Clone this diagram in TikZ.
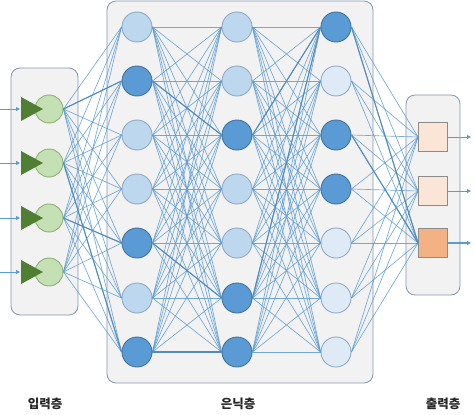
\documentclass[tikz,border=0pt]{standalone}
\usepackage{fontspec}
\newfontfamily\kr{Noto Sans CJK KR}
\usetikzlibrary{arrows.meta,calc}
\definecolor{lineblue}{HTML}{5B9BD5}
\definecolor{darkblue}{HTML}{5B9BD5}
\definecolor{darkblueb}{HTML}{41719C}
\definecolor{midblue}{HTML}{BDD7EE}
\definecolor{lightblue}{HTML}{DEEBF7}
\definecolor{lightb}{HTML}{8FA9C6}
\definecolor{boxfill}{HTML}{F2F2F2}
\definecolor{boxline}{HTML}{8497B0}
\definecolor{ingreen}{HTML}{C5E0B4}
\definecolor{ingreenb}{HTML}{8CAF74}
\definecolor{trigreen}{HTML}{507E32}
\definecolor{peach}{HTML}{FBE5D6}
\definecolor{orange}{HTML}{F4B183}
\definecolor{sqline}{HTML}{8C8C8C}
\tikzset{
  layerbox/.style={fill=boxfill, draw=boxline, line width=0.8pt, rounded corners=9pt},
  neuron/.style={circle, minimum size=30pt, inner sep=0pt, line width=0.9pt},
  ndark/.style={neuron, fill=darkblue, draw=darkblueb},
  nmid/.style={neuron, fill=midblue, draw=lightb},
  nlight/.style={neuron, fill=lightblue, draw=lightb},
  incirc/.style={circle, minimum size=28pt, inner sep=0pt, fill=ingreen, draw=ingreenb, line width=0.9pt},
  outsq/.style={rectangle, minimum size=29pt, inner sep=0pt, draw=sqline, line width=0.9pt},
  conn/.style={draw=lineblue, draw opacity=0.85, line width=0.65pt},
  thick conn/.style={draw=lineblue!90!black, line width=1.1pt},
  io arrow/.style={draw=lineblue, line width=0.8pt, -{Triangle[length=4pt,width=4pt]}},
  layerlabel/.style={font=\kr\bfseries\fontsize{12.5pt}{14pt}\selectfont, text=black!85}
}
\begin{document}
\begin{tikzpicture}[x=1pt,y=-1pt]
\useasboundingbox (0,0) rectangle (474,415);
\fill[white] (0,0) rectangle (474,415);
% layer boxes
\path[layerbox] (11,68) rectangle (78,315);
\path[layerbox] (107,1) rectangle (373,383);
\path[layerbox] (406,95) rectangle (460,295);
% input neurons
\foreach \i/\y in {1/109,2/163,3/218,4/272} {
  \node[incirc] (i\i) at (49,\y) {};
  \coordinate (s\i) at (0,\y);
  \coordinate (tb\i) at (20,\y);
}
% hidden neurons
\foreach \c/\x in {1/137,2/237,3/336} {
  \foreach \r/\y in {1/27,2/81,3/135,4/189,5/243,6/298,7/352} {
    \coordinate (p\c\r) at (\x,\y);
  }
}
\foreach \r/\s in {1/nmid,2/ndark,3/nmid,4/nmid,5/ndark,6/nmid,7/ndark} {\node[\s] (h1\r) at (p1\r) {};}
\foreach \r/\s in {1/nmid,2/nmid,3/ndark,4/nmid,5/nmid,6/ndark,7/ndark} {\node[\s] (h2\r) at (p2\r) {};}
\foreach \r/\s in {1/ndark,2/nlight,3/ndark,4/ndark,5/nlight,6/nlight,7/nlight} {\node[\s] (h3\r) at (p3\r) {};}
% output neurons
\node[outsq, fill=peach] (o1) at (433,137) {};
\node[outsq, fill=peach] (o2) at (433,191) {};
\node[outsq, fill=orange] (o3) at (433,243) {};
\foreach \k/\y in {1/137,2/191,3/243} {\coordinate (e\k) at (471,\y);}
% connections
\foreach \i in {1,...,4} {\foreach \j in {1,...,7} {\draw[conn] (i\i.east) -- (h1\j.west);}}
\foreach \i in {1,...,7} {\foreach \j in {1,...,7} {\draw[conn] (h1\i.east) -- (h2\j.west);}}
\foreach \i in {1,...,7} {\foreach \j in {1,...,7} {\draw[conn] (h2\i.east) -- (h3\j.west);}}
\foreach \i in {1,...,7} {\foreach \j in {1,...,3} {\draw[conn] (h3\i.east) -- (o\j.west);}}
% emphasised connections
\draw[thick conn] (i2.east) -- (h17.west);
\draw[thick conn] (i3.east) -- (h15.west);
\draw[thick conn] (i1.east) -- (h12.west);
\draw[thick conn] (h12.east) -- (h23.west);
\draw[thick conn] (h15.east) -- (h26.west);
\draw[thick conn] (h17.east) -- (h27.west);
\draw[thick conn] (h23.east) -- (h31.west);
\draw[thick conn] (h26.east) -- (h31.west);
\draw[thick conn] (h31.east) -- (o3.west);
\draw[thick conn] (h33.east) -- (o3.west);
% input arrows and triangles
\foreach \i in {1,...,4} {
  \draw[io arrow] (s\i) -- (tb\i);
  \fill[trigreen] ($(tb\i)+(1,-12)$) -- ($(tb\i)+(23,0)$) -- ($(tb\i)+(1,12)$) -- cycle;
}
% output arrows
\draw[io arrow] (o1.east) -- (e1);
\draw[io arrow] (o2.east) -- (e2);
\draw[io arrow, line width=1.2pt] (o3.east) -- (e3);
% labels
\node[layerlabel] (l1) at (45,404) {입력층};
\node[layerlabel] (l2) at (238,404) {은닉층};
\node[layerlabel] (l3) at (443,404) {출력층};
\end{tikzpicture}
\end{document}
